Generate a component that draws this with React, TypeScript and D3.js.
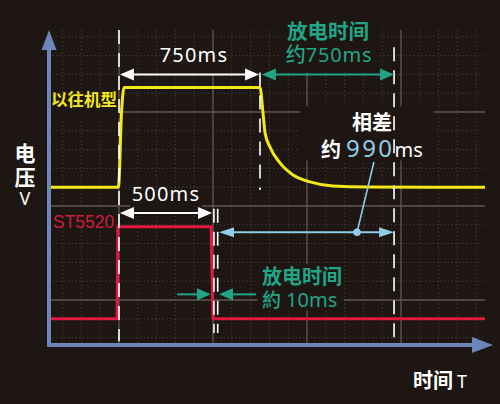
import React from 'react';
import * as d3 from 'd3';

// 时间 (ms) / 电压 (格) — 读自示波器截图
const yellowT = [-367, -3, 14, 27, 750, 766, 777, 803, 856, 926, 1016, 1138, 1319, 1947];
const yellowV = [6.0, 6.0, 10.1, 11.3, 11.3, 9.95, 8.88, 8.14, 7.29, 6.65, 6.28, 6.06, 6.01, 6.0];

const redT = [-367, -10, -6, 490, 500, 1947];
const redV = [-1.0, -1.0, 3.9, 3.9, -1.0, -1.0];

// 虚线标记：时间与上下端
const dashT = [0, 750, 1463, 505, 525];
const dashTop = [14.36, 12.1, 13.45, 4.85, 4.85];
const dashBottom = [-2.2, 5.85, -2.1, -1.75, -1.75];

const majorT = [0, 500, 1000, 1500];
const minorT = d3.range(-300, 1901, 100);
const majorV = [0, 5, 10];
const minorV = d3.range(-2, 15, 1);

const BG = '#1d1613';
const AXIS = '#6d86b9';
const YELLOW = '#f4e81a';
const RED = '#e1193f';
const TEAL = '#22a587';
const SKY = '#8fcde6';
const CJK = '"Noto Sans CJK SC", "Noto Sans", sans-serif';
const LAT = '"Noto Sans", "Noto Sans CJK SC", sans-serif';

const x = d3.scaleLinear().domain([0, 500]).range([119, 213]);
const y = d3.scaleLinear().domain([0, 5]).range([300, 206]);

const tMin = -372.3;
const tMax = 1946.8;
const vMin = -2.39;
const vMax = 14.36;

type Pt = [number, number];

function Arrow({ t1, t2, v, color, head1 = true, head2 = true, len = 14, half = 6 }: {
  t1: number; t2: number; v: number; color: string; head1?: boolean; head2?: boolean; len?: number; half?: number;
}) {
  const x1 = x(t1);
  const x2 = x(t2);
  const yy = y(v);
  const tri = (tip: number, dir: number) => {
    const pts: Pt[] = [[tip, yy], [tip + dir * len, yy - half], [tip + dir * len, yy + half]];
    return <polygon points={pts.map(p => p.join(',')).join(' ')} fill={color} />;
  };
  return (
    <g>
      <line x1={head1 ? x1 + len - 1 : x1} x2={head2 ? x2 - len + 1 : x2} y1={yy} y2={yy} stroke={color} strokeWidth={2} />
      {head1 && tri(x1, 1)}
      {head2 && tri(x2, -1)}
    </g>
  );
}

export default function App() {
  const yellowLine = d3.line<number>()
    .x((_, i) => x(yellowT[i]))
    .y(d => y(d))
    .curve(d3.curveMonotoneX)(yellowV);
  const redLine = d3.line<number>()
    .x((_, i) => x(redT[i]))
    .y(d => y(d))(redV);

  const left = x(tMin);
  const right = x(tMax);
  const top = y(vMax);
  const bottom = y(vMin);

  return (
    <svg width={500} height={404} style={{ position: 'absolute', left: 0, top: 0, background: BG }}>
      <rect width={500} height={404} fill={BG} />

      {/* 网格 */}
      <g>
        {minorT.map(t => (
          <line key={'mt' + t} x1={x(t)} x2={x(t)} y1={top} y2={bottom} stroke="#554c46" strokeWidth={1} strokeDasharray="1,2.8" />
        ))}
        {minorV.map(v => (
          <line key={'mv' + v} x1={left} x2={right} y1={y(v)} y2={y(v)} stroke="#554c46" strokeWidth={1} strokeDasharray="1,2.8" />
        ))}
        {majorT.map(t => (
          <line key={'Mt' + t} x1={x(t)} x2={x(t)} y1={top} y2={bottom} stroke="#5e5550" strokeWidth={1.3} />
        ))}
        {majorV.map(v => (
          <line key={'Mv' + v} x1={left} x2={right} y1={y(v)} y2={y(v)} stroke="#5e5550" strokeWidth={1.3} />
        ))}
      </g>

      {/* 文字底色，遮住网格 */}
      <g fill={BG}>
        <rect x={x(207)} y={y(12.95)} width={72} height={18} />
        <rect x={x(862)} y={y(14.65)} width={96} height={48} />
        <rect x={x(962)} y={y(10.3)} width={134} height={54} />
        <rect x={x(59)} y={y(5.7)} width={72} height={18} />
        <rect x={x(739)} y={y(1.9)} width={86} height={46} />
        <rect x={x(-361)} y={y(10.7)} width={68} height={20} />
        <rect x={x(-356)} y={y(4.85)} width={62} height={17} />
      </g>

      {/* 信号 */}
      <path d={yellowLine ?? ''} fill="none" stroke={YELLOW} strokeWidth={3} />
      <path d={redLine ?? ''} fill="none" stroke={RED} strokeWidth={3} />

      {/* 虚线 */}
      {dashT.map((t, i) => (
        <line key={'d' + i} x1={x(t)} x2={x(t)} y1={y(dashTop[i])} y2={y(dashBottom[i])}
          stroke="#ffffff" strokeWidth={1.6} strokeDasharray="14,9" />
      ))}

      {/* 箭头 */}
      <Arrow t1={5} t2={745} v={12.0} color="#ffffff" />
      <Arrow t1={760} t2={1463} v={12.0} color={TEAL} />
      <Arrow t1={5} t2={495} v={4.63} color="#ffffff" />
      <Arrow t1={532} t2={1463} v={3.6} color={SKY} len={15} half={5} />
      <Arrow t1={309} t2={489} v={0.3} color={TEAL} head1={false} />
      <Arrow t1={532} t2={729} v={0.3} color={TEAL} head2={false} />
      <line x1={x(1266)} y1={y(3.6)} x2={x(1356)} y2={y(7.34)} stroke={SKY} strokeWidth={1.6} />
      <circle cx={x(1266)} cy={y(3.6)} r={3.8} fill={SKY} />

      {/* 坐标轴 */}
      <line x1={left} x2={left} y1={bottom + 2} y2={50} stroke={AXIS} strokeWidth={4} />
      <polygon points={`${left},30 ${left - 7.5},50 ${left + 7.5},50`} fill={AXIS} />
      <line x1={left - 2} x2={474} y1={bottom} y2={bottom} stroke={AXIS} strokeWidth={4} />
      <polygon points={`493,${bottom} 472,${bottom - 8} 472,${bottom + 8}`} fill={AXIS} />

      {/* 文字 */}
      <g fontFamily={LAT} fill="#ffffff">
        <text x={x(399)} y={y(12.66)} fontSize={20} textAnchor="middle" letterSpacing={1.2}>750ms</text>
        <text x={x(250)} y={y(5.27)} fontSize={20} textAnchor="middle" letterSpacing={1.2}>500ms</text>
      </g>
      <g fontFamily={CJK} fill={TEAL}>
        <text textAnchor="middle">
          <tspan x={x(1112)} y={y(13.9)} fontSize={20.5} fontWeight={700}>放电时间</tspan>
          <tspan x={x(1117)} y={y(12.66)} fontSize={20} fontWeight={500}>约<tspan fontFamily={LAT} fontWeight={400} letterSpacing={0.8}>750ms</tspan></tspan>
        </text>
        <text>
          <tspan x={x(761)} y={y(0.85)} fontSize={20} fontWeight={700}>放电时间</tspan>
          <tspan x={x(761)} y={y(-0.37)} fontSize={19} fontWeight={500}>約<tspan fontFamily={LAT} fontWeight={400} fontSize={20} dx={5}>10ms</tspan></tspan>
        </text>
      </g>
      <g fontFamily={CJK} fill="#ffffff">
        <text>
          <tspan x={x(1346)} y={y(9.05)} fontSize={20} fontWeight={700} textAnchor="middle">相差</tspan>
          <tspan x={x(1074)} y={y(7.6)} fontSize={20} fontWeight={700}>约</tspan>
          <tspan fontFamily={LAT} fontWeight={400} fontSize={24} fill={SKY} dx={5} letterSpacing={2.5}>990</tspan>
          <tspan fontFamily={LAT} fontWeight={400} fontSize={20}>ms</tspan>
        </text>
        <text textAnchor="middle" fontWeight={700}>
          <tspan x={25} y={161} fontSize={21}>电</tspan>
          <tspan x={25} y={185} fontSize={21}>压</tspan>
          <tspan x={25} y={205} fontSize={18} fontFamily={LAT} fontWeight={400}>V</tspan>
        </text>
        <text x={413} y={388} fontSize={20} fontWeight={700}>时间<tspan fontFamily={LAT} fontWeight={400} fontSize={18} dx={4}>T</tspan></text>
      </g>
      <text x={51} y={106} fontFamily={CJK} fontSize={16.5} fontWeight={700} fill={YELLOW}>以往机型</text>
      <text x={53} y={228} fontFamily='"Liberation Sans", Arial, sans-serif' fontSize={17.5} fill="#cf1f3d">ST5520</text>
    </svg>
  );
}
